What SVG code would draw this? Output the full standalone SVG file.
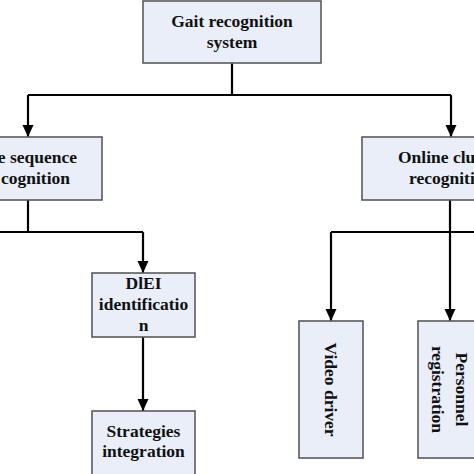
<svg xmlns="http://www.w3.org/2000/svg" width="474" height="474" viewBox="0 0 474 474">
<defs>
<style>
.box{fill:#e9eef8;stroke:#5a5a5a;stroke-width:1.6}
.t{font-family:"Liberation Serif","Times New Roman",serif;font-weight:bold;font-size:17.5px;fill:#111}
.c{text-anchor:middle}
.ln{fill:none;stroke:#000;stroke-width:2.2}
</style>
<marker id="ah" markerWidth="12" markerHeight="12" viewBox="0 0 12 12" refX="12" refY="6" orient="auto" markerUnits="userSpaceOnUse">
<path d="M0,0.5 L12,6 L0,11.5 Z" fill="#000"/>
</marker>
</defs>
<rect width="474" height="474" fill="#fff"/>
<g id="connectors">
<path class="ln" d="M232,63 V95"/>
<path class="ln" d="M28,95 H451"/>
<path class="ln" d="M28,95 V137" marker-end="url(#ah)"/>
<path class="ln" d="M451,95 V137" marker-end="url(#ah)"/>
<path class="ln" d="M28,200 V232"/>
<path class="ln" d="M0,232 H143"/>
<path class="ln" d="M143,232 V273" marker-end="url(#ah)"/>
<path class="ln" d="M143,337 V411" marker-end="url(#ah)"/>
<path class="ln" d="M331,232 H474"/>
<path class="ln" d="M450,200 V321" marker-end="url(#ah)"/>
<path class="ln" d="M331,232 V321" marker-end="url(#ah)"/>
</g>
<g id="root">
<rect class="box" x="143" y="1" width="178" height="62"/>
<text class="t c" x="232" y="27">Gait recognition</text>
<text class="t c" x="232" y="48">system</text>
</g>
<g id="left">
<rect class="box" x="-50" y="137" width="152" height="63"/>
<text class="t" x="77" y="163" text-anchor="end">e sequence</text>
<text class="t" x="70" y="184" text-anchor="end">cognition</text>
</g>
<g id="right">
<rect class="box" x="362" y="137" width="180" height="63"/>
<text class="t" x="398" y="163">Online clu</text>
<text class="t" x="409" y="184">recogniti</text>
</g>
<g id="diei">
<rect class="box" x="92" y="273" width="103" height="64"/>
<text class="t c" x="143.5" y="289">DlEI</text>
<text class="t c" x="143.5" y="310">identificatio</text>
<text class="t c" x="143.5" y="331">n</text>
</g>
<g id="strategies">
<rect class="box" x="92" y="411" width="103" height="70"/>
<text class="t c" x="143.5" y="437">Strategies</text>
<text class="t c" x="143.5" y="457">integration</text>
</g>
<g id="video">
<rect class="box" x="299" y="321" width="64" height="137"/>
<text class="t c" transform="translate(331,389.5) rotate(90)" x="0" y="6">Video driver</text>
</g>
<g id="personnel">
<rect class="box" x="418" y="321" width="64" height="137"/>
<text class="t c" transform="translate(450,389.5) rotate(90)" x="0" y="-6">Personnel</text>
<text class="t c" transform="translate(450,389.5) rotate(90)" x="0" y="18">registration</text>
</g>
</svg>
